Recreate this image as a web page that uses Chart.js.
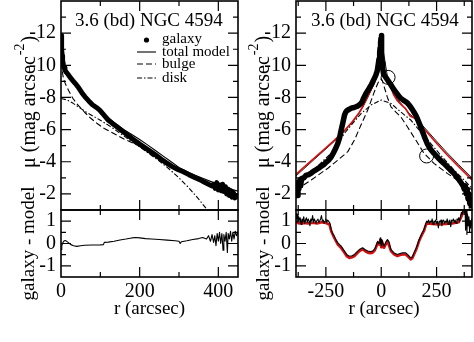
<!DOCTYPE html>
<html><head><meta charset="utf-8">
<script src="https://cdn.jsdelivr.net/npm/chart.js@4.4.1/dist/chart.umd.min.js"></script>
<style>
html,body{margin:0;padding:0;background:#fff;}
#wrap{position:relative;width:474px;height:342px;overflow:hidden;background:#fff;}
canvas{position:absolute;left:0;top:0;}
</style></head><body>
<div id="wrap">
<canvas id="cLM" width="474" height="342"></canvas>
<canvas id="cLR" width="474" height="342"></canvas>
<canvas id="cRM" width="474" height="342"></canvas>
<canvas id="cRR" width="474" height="342"></canvas>
</div>
<script>
// ---------- tick values ----------
const xTicksLeft = [0, 200, 400];
const xMinorLeft = [100, 300];
const xTicksRight = [-250, 0, 250];
const xMinorRight = [-375, -125, 125, 375];
const yTicksMain = [-12, -10, -8, -6, -4, -2];
const yMinorMain = [-13, -11, -9, -7, -5, -3];
const yTicksRes = [-1, 0, 1];
const yMinorRes = [-0.5, 0.5];

// ---------- left panel (r >= 0) ----------
const galL_r = [0,1,2,3,4,6,8,10,14,19,25,30,36,45,53,61,70,80,90,99,106,112,120,130,142,155,170,184,200,215,227,240,255,269,283,297,311,325,340,354,365,375,383,388,392,396,400,404,408,411,414,418,421,425,428,431,435,438,442,446,450];
const galL_mu = [-11.85,-11.5,-11.0,-10.6,-10.3,-10.05,-9.85,-9.7,-9.55,-9.4,-9.2,-9.05,-8.88,-8.6,-8.3,-8.04,-7.8,-7.55,-7.38,-7.2,-7.0,-6.82,-6.6,-6.4,-6.18,-5.93,-5.65,-5.38,-5.1,-4.85,-4.65,-4.43,-4.15,-3.92,-3.7,-3.52,-3.38,-3.2,-3.02,-2.87,-2.72,-2.6,-2.5,-2.6,-2.35,-2.7,-2.25,-2.55,-2.2,-2.6,-2.15,-2.45,-2.0,-2.3,-1.9,-2.2,-1.8,-2.1,-1.75,-1.9,-1.7];
const modL_r = [0,2,4,7,10,15,20,30,40,50,60,70,80,90,100,110,120,140,160,180,200,220,240,260,280,300,320,340,360,380,400,420,440,450];
const modL_mu = [-11.6,-10.9,-10.3,-9.95,-9.75,-9.55,-9.35,-9.0,-8.72,-8.4,-8.1,-7.85,-7.6,-7.42,-7.22,-6.95,-6.72,-6.35,-6.0,-5.7,-5.38,-5.05,-4.7,-4.35,-4.0,-3.65,-3.4,-3.18,-2.98,-2.78,-2.6,-2.42,-2.25,-2.17];
const bulL_r = [0,1,2,3,5,8,12,20,30,40,48,60,75,91,110,133,160,184,205,227,250,275,300,325,350,375,400,425,450];
const bulL_mu = [-11.3,-10.5,-10.0,-9.7,-9.35,-9.05,-8.8,-8.4,-7.95,-7.62,-7.4,-7.08,-6.72,-6.4,-6.07,-5.77,-5.42,-5.15,-4.9,-4.6,-4.22,-3.85,-3.5,-3.2,-2.92,-2.66,-2.42,-2.2,-1.98];
const dskL_r = [0,15,30,48,70,99,125,150,176,200,227,250,275,300,325,350,372,385];
const dskL_mu = [-7.94,-7.85,-7.65,-7.35,-7.0,-6.6,-6.2,-5.78,-5.32,-4.93,-4.45,-4.05,-3.55,-3.0,-2.38,-1.68,-1.0,-0.6];
const resL_r = [0,2,5,8,12,18,25,32,40,50,60,80,100,108,110,120,135,150,165,180,190,200,215,230,250,270,290,300,303,306,320,335,350,360,370,375,380,384,388,391,394,397,400,403,406,409,412,414,417,420,423,425,428,431,434,437,440,443,446,450];
const resL_v = [-0.27,-0.1,0.05,0.12,0.13,0.05,-0.05,-0.1,-0.13,-0.1,-0.08,-0.07,-0.06,-0.05,0.05,0.06,0.1,0.16,0.2,0.25,0.27,0.25,0.22,0.2,0.18,0.15,0.12,0.1,0.0,0.08,0.12,0.18,0.22,0.27,0.2,0.35,0.1,0.4,0.05,0.35,-0.1,0.45,0.1,0.5,0.0,0.45,-0.3,0.4,0.1,0.5,-0.4,0.45,0.2,0.55,0.1,0.5,0.2,0.55,0.35,0.5];

// ---------- right panel (major axis) ----------
const galR_r = [-385,-382,-379,-376,-372,-368,-364,-360,-350,-340,
 -328,-316,-305,-295,-283,-271,-260,-250,-238,-226,
 -218,-210,-203,-196,-188,-181,-173,-166,-160,-155,
 -150,-144,-137,-130,-122,-114,-107,-100,-91,-85,
 -80,-74,-69,-63,-57,-52,-46,-40,-35,-30,
 -24,-18,-13,-10,-7,-5,-3,-1,0,1,
 2,3,5,7,10,14,18,23,28,33,
 38,44,49,57,65,73,81,88,95,103,
 111,117,122,128,133,139,145,150,156,162,
 167,173,178,184,190,196,201,208,215,221,
 227,233,238,249,260,271,283,294,305,316,
 328,339,350,358,365,370,375,380,384,388,
 392,396,400,404,408];
const galR_mu = [-2.1,-2.7,-1.9,-2.6,-2.3,-2.85,-2.5,-2.95,-3.0,-3.15,
 -3.2,-3.3,-3.42,-3.5,-3.6,-3.72,-3.82,-3.95,-4.1,-4.3,
 -4.5,-4.72,-4.92,-5.15,-5.5,-5.97,-6.45,-6.9,-7.1,-7.18,
 -7.22,-7.27,-7.32,-7.36,-7.38,-7.42,-7.46,-7.52,-7.63,-7.77,
 -7.95,-8.1,-8.25,-8.38,-8.5,-8.63,-8.77,-8.92,-9.08,-9.22,
 -9.4,-9.65,-10.1,-10.4,-10.8,-11.1,-11.4,-11.7,-11.85,-11.5,
 -11.0,-10.6,-10.15,-9.8,-9.5,-9.38,-9.3,-9.2,-9.1,-9.0,
 -8.9,-8.78,-8.67,-8.5,-8.35,-8.2,-8.05,-7.95,-7.88,-7.8,
 -7.73,-7.67,-7.6,-7.5,-7.4,-7.28,-7.15,-7.03,-6.9,-6.72,
 -6.55,-6.35,-6.18,-5.95,-5.75,-5.52,-5.35,-5.12,-4.95,-4.82,
 -4.7,-4.6,-4.53,-4.36,-4.2,-4.05,-3.9,-3.75,-3.6,-3.44,
 -3.28,-3.1,-2.9,-2.75,-2.6,-2.5,-2.3,-2.5,-2.0,-2.3,
 -1.7,-2.0,-1.4,-1.6,-1.1];
const modR_r = [-385,-350,-300,-250,-211,-166,-130,-100,-80,-61,-45,-31,-20,-10,-5,-2,0,2,5,10,20,28,40,55,70,90,110,130,150,171,200,250,298,350,410];
const modR_mu = [-3.22,-3.65,-4.26,-4.87,-5.35,-5.95,-6.5,-7.05,-7.5,-8.05,-8.5,-8.95,-9.3,-9.9,-10.6,-11.3,-11.75,-11.2,-10.5,-9.55,-9.35,-9.25,-8.75,-8.2,-7.85,-7.55,-7.3,-6.85,-6.72,-6.39,-5.95,-5.15,-4.42,-3.7,-2.87];
const modRk_r = [-385,-300,-211,-166,-130,-100,-61,-31,0,28,70,130,171,250,298,350,410];
const modRk_mu = [-3.12,-4.18,-5.28,-5.9,-6.45,-7.0,-8.0,-8.9,-11.7,-9.3,-7.95,-6.95,-6.5,-5.28,-4.55,-3.82,-3.0];
const bulR_r = [-385,-316,-241,-196,-151,-121,-91,-61,-31,-15,-5,0,5,13,28,44,65,88,118,156,193,238,298,350,410];
const bulR_mu = [-2.25,-2.87,-3.6,-4.1,-4.63,-5.35,-6.3,-7.22,-8.36,-8.9,-9.1,-9.15,-9.05,-8.67,-8.0,-7.42,-7.1,-6.8,-6.18,-5.35,-4.53,-3.9,-3.28,-2.8,-2.25];
const dskR_r = [-385,-376,-316,-271,-226,-196,-166,-129,-91,-46,0,44,88,133,178,223,268,328,388,410];
const dskR_mu = [-2.4,-2.55,-3.35,-3.95,-4.53,-5.15,-5.77,-6.39,-7.0,-7.53,-7.84,-7.63,-7.1,-6.6,-5.87,-5.15,-4.42,-3.5,-2.67,-2.35];
const circ_r = [31, 205];
const circ_mu = [-9.25, -4.36];
const resR_r = [-385,-382,-379,-376,-373,-370,-366,-362,-358,-354,
 -350,-346,-342,-338,-334,-330,-326,-322,-318,-314,
 -310,-306,-302,-298,-294,-290,-286,-282,-278,-274,
 -270,-266,-262,-258,-254,-250,-246,-242,-238,-234,
 -230,-226,-220,-212,-204,-196,-181,-166,-155,-144,
 -132,-121,-110,-99,-84,-72,-61,-50,-39,-30,
 -24,-16,-12,-9,-6,-4,-2,0,2,3,
 6,13,20,28,36,44,58,73,85,96,
 111,122,133,140,148,160,171,182,193,200,
 205,210,214,218,222,226,230,234,238,242,
 246,250,254,258,262,266,270,274,278,282,
 286,290,294,298,302,306,310,314,318,322,
 326,330,334,338,342,346,350,354,358,362,
 366,370,374,378,381,384,387,390,393,396,
 399,402,405,408,410];
const resR_k = [1.35,1.1,1.3,0.95,1.2,1.05,1.15,0.85,1.1,1.0,
 1.2,0.9,1.05,1.15,0.95,1.1,1.0,0.8,1.1,1.0,
 1.25,0.95,1.1,1.0,0.9,1.05,1.1,0.95,1.0,1.1,
 1.25,1.0,1.05,0.9,1.0,1.1,0.95,1.05,1.0,0.95,
 0.85,0.63,0.45,0.33,0.15,0.03,-0.12,-0.34,-0.5,-0.57,
 -0.55,-0.49,-0.38,-0.27,-0.19,-0.28,-0.34,-0.36,-0.34,-0.25,
 -0.12,0.1,0.0,0.02,0.15,0.25,0.05,-0.1,0.1,0.18,
 0.05,-0.12,0.05,0.18,0.05,-0.27,-0.42,-0.49,-0.45,-0.42,
 -0.42,-0.52,-0.64,-0.6,-0.42,-0.15,0.18,0.42,0.63,0.85,
 1.0,0.95,1.05,0.9,1.0,0.95,1.1,0.85,1.0,0.95,
 1.05,0.9,1.0,0.7,1.0,0.95,1.05,0.8,1.0,1.05,
 0.9,1.0,0.95,1.1,0.85,1.0,1.05,0.75,1.05,1.0,
 1.1,0.95,1.05,0.9,1.1,1.05,1.15,1.0,1.2,1.4,
 1.3,1.6,1.45,1.9,0.6,1.7,0.4,1.3,0.8,1.2,
 0.5,1.0,0.7,1.1,0.9];
const resRr_r = [-385,-370,-350,-330,-310,-290,-270,-250,-234,-226,
 -212,-196,-181,-166,-155,-144,-132,-121,-110,-99,
 -84,-72,-61,-50,-39,-30,-24,-16,-9,-4,
 0,3,13,28,44,58,73,85,96,111,
 122,133,140,148,160,171,182,193,200,205,
 230,260,290,320,350,362,370,378,390,410];
const resRr_v = [0.95,0.9,0.92,0.9,0.93,0.9,0.95,0.92,0.85,0.55,
 0.25,-0.05,-0.2,-0.42,-0.58,-0.65,-0.62,-0.56,-0.45,-0.34,
 -0.26,-0.35,-0.41,-0.43,-0.41,-0.32,-0.19,0.03,-0.05,0.18,
 -0.17,0.11,-0.19,0.11,-0.34,-0.49,-0.56,-0.52,-0.49,-0.49,
 -0.59,-0.71,-0.67,-0.49,-0.22,0.11,0.35,0.56,0.78,0.9,
 0.88,0.85,0.88,0.9,0.95,1.2,1.4,1.6,1.1,0.8];

// ---------- helpers ----------
const FONTFAM = "'Liberation Serif', 'Times New Roman', serif";
const RED = '#d01010';
function pts(xs, ys) { return xs.map((x, i) => ({x: x, y: ys[i]})); }
function line(data, color, width, dash) {
  return {type: 'line', data: data, borderColor: color, backgroundColor: color,
    borderWidth: width, borderDash: dash || [], pointRadius: 0, tension: 0,
    fill: false, clip: 0, borderJoinStyle: 'round', borderCapStyle: 'butt'};
}
function yAxis(min, max, reverse, width, major, title, titlePad) {
  return {
    type: 'linear', min: min, max: max, reverse: reverse, position: 'left',
    afterFit(s) { s.width = width; s.paddingTop = 0; s.paddingBottom = 0; },
    afterBuildTicks(s) { s.ticks = major.map(v => ({value: v})); },
    grid: {display: false, drawTicks: false}, border: {display: false},
    ticks: {padding: 5, color: '#000', autoSkip: false, font: {family: FONTFAM, size: 20}, callback: v => String(v)},
    title: title ? {display: true, text: title, color: '#000', font: {family: FONTFAM, size: 19}, padding: {top: titlePad, bottom: 0}} : {display: false}
  };
}
function xAxis(min, max, major, show) {
  return {
    type: 'linear', min: min, max: max, position: 'bottom', display: show,
    afterFit(s) { s.height = 43; s.paddingLeft = 0; s.paddingRight = 0; },
    afterBuildTicks(s) { s.ticks = major.map(v => ({value: v})); },
    grid: {display: false, drawTicks: false}, border: {display: false},
    ticks: {padding: 3, color: '#000', autoSkip: false, maxRotation: 0, minRotation: 0, font: {family: FONTFAM, size: 20}, callback: v => String(v)},
    title: {display: true, text: 'r (arcsec)', color: '#000', font: {family: FONTFAM, size: 19}, padding: {top: 0, bottom: 0}}
  };
}

// frame + inward ticks on all four sides, placed through the chart scales
const framePlugin = {
  id: 'frame',
  afterDatasetsDraw(chart) {
    const o = chart.options.plugins.frame;
    const ctx = chart.ctx, a = chart.chartArea, xs = chart.scales.x, ys = chart.scales.y;
    ctx.save();
    ctx.strokeStyle = '#000';
    ctx.lineWidth = 1.2;
    ctx.beginPath();
    const xt = (vals, len) => vals.forEach(v => {
      const p = xs.getPixelForValue(v);
      if (p <= a.left + 1 || p >= a.right - 1) return;
      ctx.moveTo(p, a.bottom); ctx.lineTo(p, a.bottom - len);
      ctx.moveTo(p, a.top); ctx.lineTo(p, a.top + len);
    });
    const yt = (vals, len) => vals.forEach(v => {
      const p = ys.getPixelForValue(v);
      if (p <= a.top + 1 || p >= a.bottom - 1) return;
      ctx.moveTo(a.left, p); ctx.lineTo(a.left + len, p);
      ctx.moveTo(a.right, p); ctx.lineTo(a.right - len, p);
    });
    xt(o.xMajor, 10); xt(o.xMinor, 5); yt(o.yMajor, 10); yt(o.yMinor, 5);
    ctx.stroke();
    ctx.lineWidth = 1.6;
    ctx.strokeRect(a.left, a.top, a.right - a.left, a.bottom - a.top);
    ctx.restore();
  }
};

// panel title, y label with superscript, and legend
const decorPlugin = {
  id: 'decor',
  afterDraw(chart) {
    const o = chart.options.plugins.decor;
    if (!o) return;
    const ctx = chart.ctx;
    ctx.save();
    ctx.fillStyle = '#000';
    ctx.strokeStyle = '#000';
    ctx.font = '19px ' + FONTFAM;
    ctx.textAlign = 'left';
    ctx.textBaseline = 'alphabetic';
    ctx.fillText(o.title, o.titleX, o.titleY);
    // y label
    ctx.save();
    ctx.translate(o.muX, o.muY);
    ctx.rotate(-Math.PI / 2);
    ctx.textBaseline = 'middle';
    ctx.font = '20px ' + FONTFAM;
    const main = '\u03bc (mag arcsec';
    ctx.fillText(main, 0, 0);
    let w = ctx.measureText(main).width + 1;
    ctx.font = '14px ' + FONTFAM;
    ctx.fillText('-2', w, -10);
    w += ctx.measureText('-2').width + 1;
    ctx.font = '20px ' + FONTFAM;
    ctx.fillText(')', w, 0);
    ctx.restore();
    if (o.legend) {
      ctx.font = '15px ' + FONTFAM;
      ctx.textBaseline = 'middle';
      o.legend.forEach(it => {
        if (it.dot) {
          ctx.beginPath(); ctx.arc((o.lx0 + o.lx1) / 2, it.y, 2.6, 0, Math.PI * 2); ctx.fill();
        } else {
          ctx.beginPath(); ctx.lineWidth = 1.1; ctx.setLineDash(it.dash);
          ctx.moveTo(o.lx0, it.y); ctx.lineTo(o.lx1, it.y); ctx.stroke();
          ctx.setLineDash([]);
        }
        ctx.fillText(it.text, o.tx, it.ty);
      });
    }
    ctx.restore();
  }
};

function make(id, datasets, scales, padding, frame, decor) {
  return new Chart(document.getElementById(id), {
    data: {datasets: datasets},
    options: {
      responsive: false, animation: false, events: [], devicePixelRatio: 1,
      layout: {autoPadding: false, padding: padding},
      scales: scales,
      plugins: {legend: {display: false}, tooltip: {enabled: false}, frame: frame, decor: decor}
    },
    plugins: [framePlugin, decorPlugin]
  });
}

// ---------- left main ----------
make('cLM', [
  line(pts(galL_r, galL_mu), '#000', 5),
  line(pts(modL_r, modL_mu), '#000', 1.1),
  line(pts(bulL_r, bulL_mu), '#000', 1.1, [6, 3]),
  line(pts(dskL_r, dskL_mu), '#000', 1.1, [5, 2, 1.5, 2])
], {
  x: {type: 'linear', min: 0, max: 450, display: false},
  y: yAxis(-14, -1, true, 61, yTicksMain)
}, {left: 0, top: 1, right: 236, bottom: 132},
{xMajor: xTicksLeft, xMinor: xMinorLeft, yMajor: yTicksMain, yMinor: yMinorMain},
{title: '3.6 (bd) NGC 4594', titleX: 75, titleY: 26, muX: 30, muY: 168,
 lx0: 137, lx1: 156, tx: 162,
 legend: [
  {text: 'galaxy', dot: true, y: 40, ty: 39},
  {text: 'total model', dash: [], y: 52, ty: 52},
  {text: 'bulge', dash: [6, 3], y: 64, ty: 64},
  {text: 'disk', dash: [5, 2, 1.5, 2], y: 78, ty: 78}
 ]});

// ---------- left residual ----------
make('cLR', [
  line(pts(resL_r, resL_v), '#000', 1.1)
], {
  x: xAxis(0, 450, xTicksLeft, true),
  y: yAxis(-1.5, 1.5, false, 61, yTicksRes, 'galaxy - model', 17.6)
}, {left: 0, top: 210, right: 236, bottom: 22},
{xMajor: xTicksLeft, xMinor: xMinorLeft, yMajor: yTicksRes, yMinor: yMinorRes}, null);

// ---------- right main ----------
make('cRM', [
  {type: 'scatter', data: pts(circ_r, circ_mu), pointRadius: 7, pointStyle: 'circle',
   borderColor: '#000', borderWidth: 1, backgroundColor: 'rgba(0,0,0,0)', clip: false},
  line(pts(galR_r, galR_mu), '#000', 5.5),
  line(pts(modR_r, modR_mu), RED, 1.6),
  line(pts(modRk_r, modRk_mu), '#000', 0.9),
  line(pts(bulR_r, bulR_mu), '#000', 1.1, [6, 3]),
  line(pts(dskR_r, dskR_mu), '#000', 1.1, [5, 2, 1.5, 2])
], {
  x: {type: 'linear', min: -385, max: 410, display: false},
  y: yAxis(-14, -1, true, 296, yTicksMain)
}, {left: 0, top: 1, right: 2, bottom: 132},
{xMajor: xTicksRight, xMinor: xMinorRight, yMajor: yTicksMain, yMinor: yMinorMain},
{title: '3.6 (bd) NGC 4594', titleX: 311, titleY: 26, muX: 264, muY: 168});

// ---------- right residual ----------
make('cRR', [
  line(pts(resR_r, resR_k), '#000', 1.1),
  line(pts(resRr_r, resRr_v), RED, 2.6)
], {
  x: xAxis(-385, 410, xTicksRight, true),
  y: yAxis(-1.5, 1.5, false, 296, yTicksRes, 'galaxy - model', 252.6)
}, {left: 0, top: 210, right: 2, bottom: 22},
{xMajor: xTicksRight, xMinor: xMinorRight, yMajor: yTicksRes, yMinor: yMinorRes}, null);
</script>
</body></html>
